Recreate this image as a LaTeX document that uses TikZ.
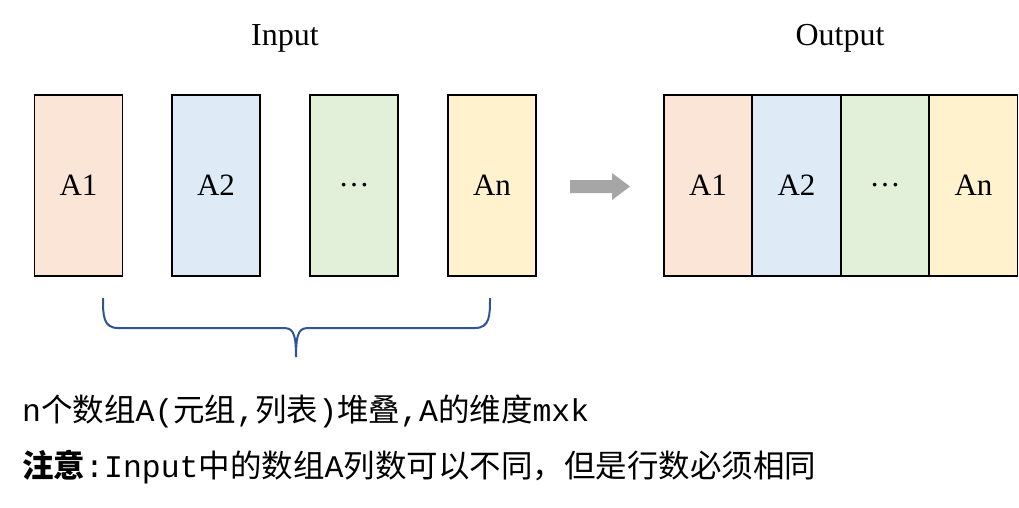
\documentclass[tikz,border=0pt]{standalone}
\usepackage{fontspec}
\setmainfont{Liberation Serif}
\setmonofont{Liberation Mono}
\newfontfamily\cjk{Noto Sans CJK SC}
\definecolor{cA}{HTML}{FBE5D6}
\definecolor{cB}{HTML}{DEEBF7}
\definecolor{cC}{HTML}{E2F0D9}
\definecolor{cD}{HTML}{FFF2CC}
\definecolor{brc}{HTML}{2F5597}
\begin{document}
\begin{tikzpicture}[x=1pt,y=-1pt,
 box/.style={draw=black,line width=1.3pt,minimum width=88pt,minimum height=181pt,inner sep=0pt,font=\fontsize{31}{33}\selectfont},
 ttl/.style={font=\fontsize{32}{34}\selectfont},
 note/.style={anchor=west,inner sep=0pt,font=\ttfamily\fontsize{31.5}{34}\selectfont}]
\useasboundingbox (0,0) rectangle (1019,508);
\node[ttl] (tin) at (285,38) {Input};
\node[ttl] (tout) at (840,38) {Output};
\node[box,fill=cA] (i1) at (78.5,185.5) {A1};
\node[box,fill=cB] (i2) at (216,185.5) {A2};
\node[box,fill=cC] (i3) at (354,185.5) {\dots};
\node[box,fill=cD] (i4) at (492,185.5) {An};
\node[box,fill=cA] (o1) at (708,185.5) {A1};
\node[box,fill=cB] (o2) at (796.5,185.5) {A2};
\node[box,fill=cC] (o3) at (885,185.5) {\dots};
\node[box,fill=cD] (o4) at (973.5,185.5) {An};
\fill[gray!70] (570,180) -- (612,180) -- (612,173) -- (630,186.5) -- (612,200) -- (612,193) -- (570,193) -- cycle;
\draw[brc,line width=2pt] (103,298) .. controls (103,315) and (103,328) .. (118,328) -- (282,328)
  .. controls (292,328) and (296,330) .. (296,357);
\draw[brc,line width=2pt] (490,298) .. controls (490,315) and (490,328) .. (475,328) -- (310,328)
  .. controls (300,328) and (296,330) .. (296,357);
\node[note] (n1) at (22,411) {n{\cjk 个数组}A({\cjk 元组},{\cjk 列表}){\cjk 堆叠},A{\cjk 的维度}mxk};
\node[note] (n2) at (22,467) {{\cjk\bfseries 注意}:Input{\cjk 中的数组}A{\cjk 列数可以不同，但是行数必须相同}};
\end{tikzpicture}
\end{document}
